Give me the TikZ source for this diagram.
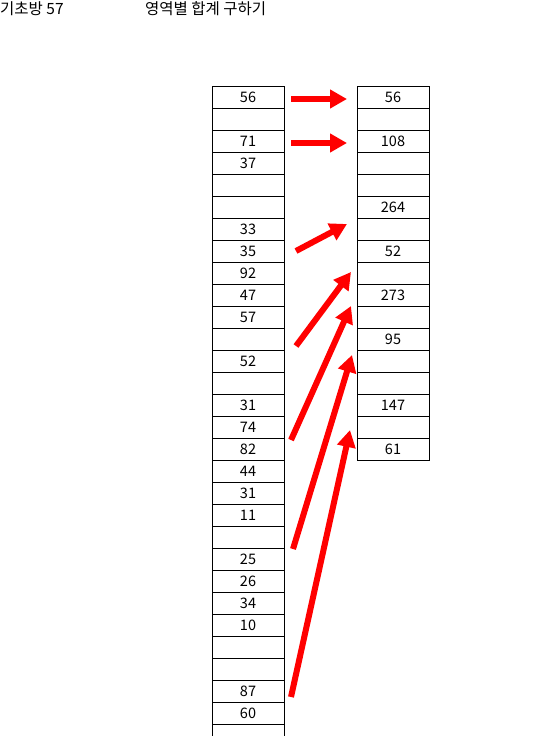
\documentclass[tikz,border=0pt]{standalone}
\usepackage{fontspec}
\setmainfont{Noto Sans CJK KR}
\usetikzlibrary{arrows.meta}
\tikzset{
  cell/.style={draw=black, line width=1pt, minimum width=72pt, minimum height=22pt, inner sep=0pt, font=\fontsize{14.5}{16}\selectfont},
  title/.style={anchor=west, inner sep=0pt, font=\fontsize{15.5}{17}\selectfont},
  redarrow/.style={draw=red, line width=6pt, -{Triangle[length=17pt,width=18pt]}}
}
\begin{document}
\begin{tikzpicture}[x=1pt,y=-1pt]
\useasboundingbox (0,0) rectangle (533,736);
\clip (0,0) rectangle (533,736);
\node[title] (t1) at (0,9) {기초방 57};
\node[title] (t2) at (145,9) {영역별 합계 구하기};
\foreach \v [count=\i from 0] in {56,{},71,37,{},{},33,35,92,47,57,{},52,{},31,74,82,44,31,11,{},25,26,34,10,{},{},87,60,{}} {
  \node[cell] (L\i) at (248,{97+22*\i}) {\raisebox{-1.5pt}{\v}};
}
\foreach \v [count=\i from 0] in {56,{},108,{},{},264,{},52,{},273,{},95,{},{},147,{},61} {
  \node[cell] (R\i) at (393,{97+22*\i}) {\raisebox{-1.5pt}{\v}};
}
\coordinate (a1s) at (291,99);  \coordinate (a1e) at (347,99);
\coordinate (a2s) at (291,143); \coordinate (a2e) at (347,143);
\coordinate (a3s) at (296,251); \coordinate (a3e) at (347,224);
\coordinate (a4s) at (296,346); \coordinate (a4e) at (351,272);
\coordinate (a5s) at (291,440); \coordinate (a5e) at (351,306);
\coordinate (a6s) at (293,549); \coordinate (a6e) at (352,355);
\coordinate (a7s) at (291,697); \coordinate (a7e) at (350,430);
\foreach \k in {1,...,7} { \draw[redarrow] (a\k s) -- (a\k e); }
\end{tikzpicture}
\end{document}
